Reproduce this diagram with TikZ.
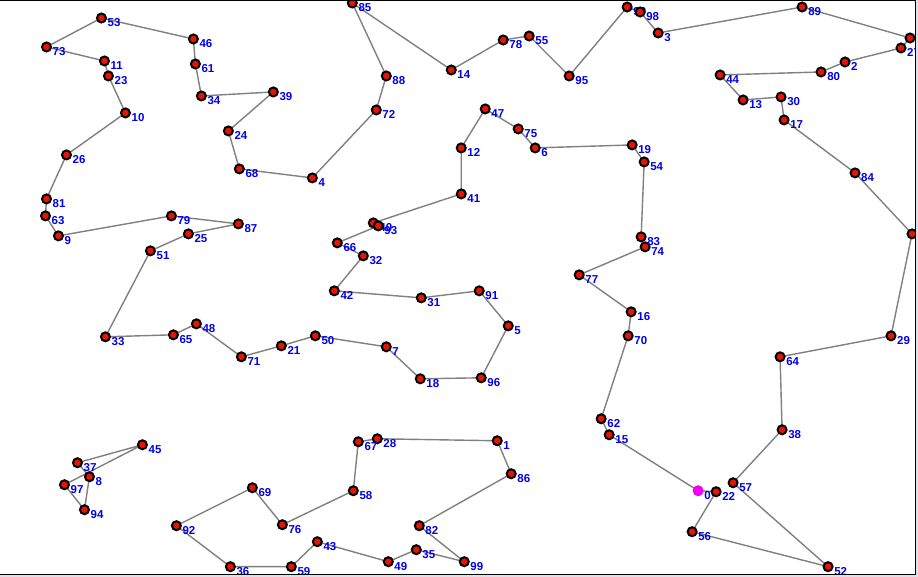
\documentclass[tikz,border=0pt]{standalone}
\usepackage{fontspec}
\setmainfont{Liberation Sans}
\usetikzlibrary{calc}
\definecolor{edgegray}{RGB}{128,128,128}
\definecolor{dotred}{RGB}{230,20,0}
\definecolor{lblblue}{RGB}{0,0,235}
\definecolor{bgout}{RGB}{222,226,234}
\definecolor{startmag}{RGB}{240,0,240}
\begin{document}
\begin{tikzpicture}[x=1pt,y=-1pt,
  edge/.style={draw=edgegray,line width=1.4pt},
  dot/.style={circle,fill=dotred,draw=black,line width=2pt,inner sep=0pt,minimum size=9pt},
  startdot/.style={circle,fill=startmag,inner sep=0pt,minimum size=11pt},
  lbl/.style={anchor=west,inner sep=0pt,text=lblblue,font=\bfseries\fontsize{11.5}{11.5}\selectfont}]
\fill[bgout] (0,0) rectangle (918,577);
\fill[white] (0,0) rectangle (915,574);
\begin{scope}
\clip (0,0) rectangle (915,574);
\foreach \n/\x/\y in {0/698/491,15/609/435,62/601/419,70/628/336,16/631/312,77/579/275,74/645/247,83/641/237,54/644/162,19/632/145,6/535/148,75/518/129,47/485/109,12/461/148,41/461/194,40/373/223,93/378/226,66/337/243,32/363/256,42/334/291,31/421/298,91/479/291,5/508/326,96/481/378,18/420/379,7/386/347,50/315/336,21/281/346,71/241/357,48/196/324,65/173/335,33/105/337,51/150/251,25/188/234,87/238/224,79/171/216,9/58/236,63/45/216,81/46/199,26/66/155,10/125/113,23/108/76,11/104/61,73/46/47,53/101/18,46/193/39,61/195/64,34/201/96,39/273/92,24/228/131,68/239/169,4/312/178,72/376/110,88/386/76,85/352/3,14/451/70,78/503/40,55/529/36,95/569/76,90/627/7,98/640/12,3/658/33,89/802/7,20/910/38,27/901/48,2/845/62,80/821/72,44/720/75,13/743/100,30/781/97,17/784/120,84/855/173,60/912/234,29/891/336,64/780/357,38/782/430,57/733/483,52/828/567,56/692/532,22/716/492,45/142/445,37/77/463,8/89/477,97/64/485,94/84/510,92/176/526,36/230/567,59/291/567,43/317/542,49/388/562,35/416/550,99/464/562,82/419/526,86/511/474,1/497/441,28/377/439,67/358/442,58/353/491,76/282/525,69/252/488}
  \coordinate (n\n) at (\x,\y);
\draw[edge] (n0)--(n15)--(n62)--(n70)--(n16)--(n77)--(n74)--(n83)--(n54)--(n19)--(n6)--(n75)--(n47)--(n12)--(n41)--(n40)--(n93)--(n66)--(n32)--(n42)--(n31)--(n91)--(n5)--(n96)--(n18)--(n7)--(n50)--(n21)--(n71)--(n48)--(n65)--(n33)--(n51)--(n25)--(n87)--(n79)--(n9)--(n63)--(n81)--(n26)--(n10)--(n23)--(n11)--(n73)--(n53)--(n46)--(n61)--(n34)--(n39)--(n24)--(n68)--(n4)--(n72)--(n88)--(n85)--(n14)--(n78)--(n55)--(n95)--(n90)--(n98)--(n3)--(n89)--(n20)--(n27)--(n2)--(n80)--(n44)--(n13)--(n30)--(n17)--(n84)--(n60)--(n29)--(n64)--(n38)--(n57)--(n52)--(n56)--(n22)--(n0);
\draw[edge] (n45)--(n37)--(n8)--(n94)--(n97)--(n45);
\draw[edge] (n92)--(n36)--(n59)--(n43)--(n49)--(n35)--(n99)--(n82)--(n86)--(n1)--(n28)--(n67)--(n58)--(n76)--(n69)--(n92);
\foreach \n in {0,...,99}{
  \ifnum\n=0
    \node[startdot] (d\n) at (n\n) {};
  \else
    \node[dot] (d\n) at (n\n) {};
  \fi
  \node[lbl] (t\n) at ($(n\n)+(6,5)$) {\n};
}
\end{scope}
\draw[black,line width=1pt] (0,0.5)--(915.5,0.5)--(915.5,574.5)--(0,574.5);
\end{tikzpicture}
\end{document}
